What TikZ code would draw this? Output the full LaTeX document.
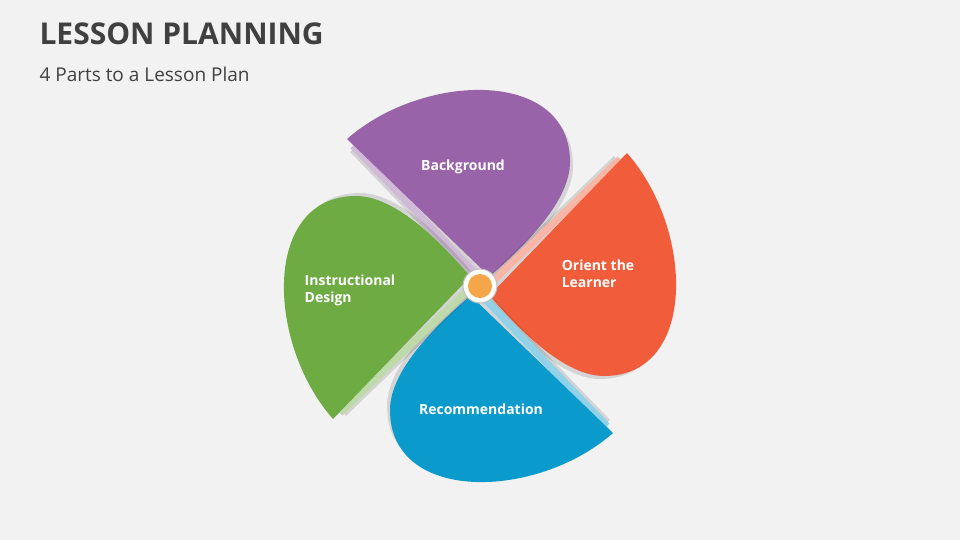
\documentclass[tikz,border=0pt]{standalone}
\usepackage{fontspec}
\setmainfont{Open Sans}
\definecolor{bg}{HTML}{F2F2F2}
\definecolor{pur}{HTML}{9963A9}
\definecolor{ora}{HTML}{F15D3B}
\definecolor{blu}{HTML}{0A9BCC}
\definecolor{gre}{HTML}{6EAB43}
\definecolor{cen}{HTML}{F5A54A}
\definecolor{tit}{HTML}{404040}
\tikzset{
 petal/.pic={
  \fill[black,opacity=0.12] (2.8,-3.8) -- (-130,134) .. controls (-54,200) and (93,215) .. (93,120) .. controls (93,82) and (50,39) .. (14,8) -- cycle;
  \draw[line width=7pt,#1!45!white] (-1,9) -- (-127,140);
  \fill[#1] (9.5,9.5) -- (-133,147) .. controls (-57,214) and (90,218) .. (90,124) .. controls (90,86) and (48,43) .. (11,11) -- cycle;
 },
 lab/.style={text=white,font=\fontsize{14}{17}\selectfont\bfseries,align=left}
}
\begin{document}
\begin{tikzpicture}[x=1pt,y=1pt]
\fill[bg] (0,0) rectangle (960,-540);
\useasboundingbox (0,0) rectangle (960,-540);
\node[anchor=west,text=tit,font=\fontsize{30}{34}\selectfont\bfseries] (title) at (36,-34) {LESSON PLANNING};
\node[anchor=west,text=tit,font=\fontsize{19}{22}\selectfont] (sub) at (36,-74) {4 Parts to a Lesson Plan};
\begin{scope}[shift={(480,-286)}]
 \pic[rotate=0] {petal=pur};
 \pic[rotate=-90] {petal=ora};
 \pic[rotate=180] {petal=blu};
 \pic[rotate=90] {petal=gre};
 \fill[white,draw=black!25,line width=1pt] (0,0) circle (17);
 \fill[cen] (0,0) circle (12);
 \coordinate (c) at (0,0);
\end{scope}
\node[lab] (b) at (463,-167) {Background};
\node[lab] (o) at (598,-274) {Orient the\\Learner};
\node[lab] (r) at (481,-409) {Recommendation};
\node[lab] (i) at (350,-290) {Instructional\\Design};
\end{tikzpicture}
\end{document}
